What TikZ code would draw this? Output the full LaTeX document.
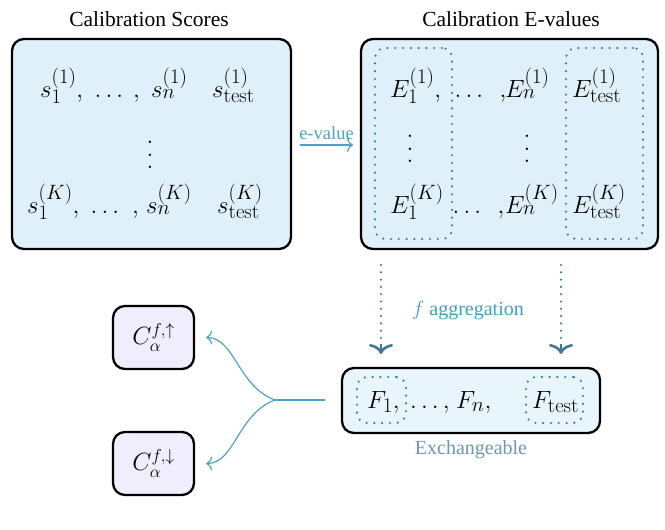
\documentclass[tikz,border=0pt]{standalone}
\usepackage[no-math]{fontspec}
\setmainfont{Liberation Serif}
\usetikzlibrary{arrows.meta}
\definecolor{boxfill}{RGB}{224,240,250}
\definecolor{ffill}{RGB}{233,245,252}
\definecolor{cfill}{RGB}{240,237,252}
\definecolor{dotblue}{RGB}{62,120,155}
\definecolor{arrowblue}{RGB}{74,163,200}
\definecolor{aggblue}{RGB}{58,160,200}
\definecolor{exgray}{RGB}{110,150,180}
\newcommand{\myvdots}{\vbox{\baselineskip=12.5pt\lineskiplimit=0pt\hbox{$.$}\hbox{$.$}\hbox{$.$}}}
\tikzset{
  bigbox/.style={draw=black, line width=2.3pt, rounded corners=12pt, fill=boxfill, inner sep=0pt},
  fbox/.style={draw=black, line width=2.3pt, rounded corners=12pt, fill=ffill, inner sep=0pt},
  cbox/.style={draw=black, line width=2.3pt, rounded corners=12pt, fill=cfill, inner sep=0pt, minimum width=81pt, minimum height=63pt, font=\fontsize{23}{26}\selectfont},
  dotbox/.style={draw=dotblue, line width=2.4pt, line cap=round, dash pattern=on 0pt off 7.8pt, rounded corners=10pt, inner sep=0pt},
  mathtxt/.style={inner sep=0pt, anchor=base west, font=\fontsize{30}{34}\selectfont},
  vdotstxt/.style={inner sep=0pt, font=\fontsize{30}{34}\selectfont},
  title/.style={inner sep=0pt, font=\fontsize{21.5}{24}\selectfont},
  dotarrow/.style={draw=dotblue, line width=2.4pt, line cap=round, dash pattern=on 0pt off 7.3pt},
  chevron/.style={draw=dotblue, line width=2.6pt, -{Computer Modern Rightarrow[length=10pt,width=24pt,line width=2.6pt]}},
  bluearrow/.style={draw=arrowblue, line width=1.2pt, -{Computer Modern Rightarrow[length=6pt,width=14pt]}},
}
\begin{document}
\begin{tikzpicture}[x=1pt,y=-1pt]
\useasboundingbox (0,0) rectangle (665,530);
% titles
\node[title] (t1) at (149,19) {Calibration Scores};
\node[title] (t2) at (511,19) {Calibration E-values};
% left box
\node[bigbox, minimum width=279pt, minimum height=210pt] (sbox) at (151.5,144) {};
\node[mathtxt] (s11) at (40,97) {$s_1^{(1)},$};
\node[mathtxt] (sd1) at (94.5,97) {$\ldots$};
\node[mathtxt] (sc1) at (133,97) {$,$};
\node[mathtxt] (sn1) at (151,97) {$s_n^{(1)}$};
\node[mathtxt] (st1) at (212,97) {$s_{\mathrm{test}}^{(1)}$};
\node[vdotstxt] (sv) at (150,155) {\myvdots};
\node[mathtxt] (s1K) at (27,213) {$s_1^{(K)},$};
\node[mathtxt] (sdK) at (90.5,213) {$\ldots$};
\node[mathtxt] (scK) at (132,213) {$,$};
\node[mathtxt] (snK) at (146,213) {$s_n^{(K)}$};
\node[mathtxt] (stK) at (217,213) {$s_{\mathrm{test}}^{(K)}$};
% right box
\node[bigbox, minimum width=297pt, minimum height=210pt] (ebox) at (509.5,144) {};
\node[dotbox, minimum width=77pt, minimum height=191pt] (dl) at (413.5,143.5) {};
\node[dotbox, minimum width=77pt, minimum height=191pt] (dr) at (604.5,143.5) {};
\node[mathtxt] (e11) at (390,97) {$E_1^{(1)},$};
\node[mathtxt] (ed1) at (454.5,97) {$\ldots$};
\node[mathtxt] (ec1) at (499.5,97) {$,$};
\node[mathtxt] (en1) at (505,97) {$E_n^{(1)}$};
\node[mathtxt] (et1) at (572,97) {$E_{\mathrm{test}}^{(1)}$};
\node[vdotstxt] (ev1) at (410,149) {\myvdots};
\node[vdotstxt] (ev2) at (527,149) {\myvdots};
\node[mathtxt] (e1K) at (390,213) {$E_1^{(K)}$};
\node[mathtxt] (edK) at (452.5,213) {$\ldots$};
\node[mathtxt] (ecK) at (497.5,213) {$,$};
\node[mathtxt] (enK) at (505,213) {$E_n^{(K)}$};
\node[mathtxt] (etK) at (572,213) {$E_{\mathrm{test}}^{(K)}$};
% e-value arrow
\coordinate (ea) at (300,145);
\coordinate (eb) at (353,145);
\draw[bluearrow] (ea) -- node[above=5pt, inner sep=0pt, text=arrowblue, font=\fontsize{18.5}{21}\selectfont] (evl) {e-value} (eb);
% F box
\node[fbox, minimum width=258pt, minimum height=65pt] (fb) at (471,400.5) {};
\node[dotbox, minimum width=49pt, minimum height=46pt] (df1) at (381.5,400) {};
\node[dotbox, minimum width=57pt, minimum height=46pt] (dft) at (554.5,400) {};
\node[mathtxt] (f1) at (367,408) {$F_1,$};
\node[mathtxt] (fd) at (410,408) {$\ldots,$};
\node[mathtxt] (fn) at (456,408) {$F_n,$};
\node[mathtxt] (ft) at (532,408) {$F_{\mathrm{test}}$};
\node[inner sep=0pt, text=exgray, font=\fontsize{20}{23}\selectfont] (exl) at (471,450) {Exchangeable};
% dotted arrows
\coordinate (da1) at (381,265);
\coordinate (db1) at (381,344);
\coordinate (dc1) at (381,354);
\coordinate (da2) at (561,265);
\coordinate (db2) at (561,344);
\coordinate (dc2) at (561,354);
\draw[dotarrow] (da1) -- (db1);
\draw[dotarrow] (da2) -- (db2);
\draw[chevron] (db1) -- (dc1);
\draw[chevron] (db2) -- (dc2);
\node[inner sep=0pt, text=aggblue, font=\fontsize{20}{23}\selectfont] (agg) at (468,310) {$f$ aggregation};
% C boxes
\node[cbox] (cu) at (153.5,337.5) {$C_\alpha^{f,\uparrow}$};
\node[cbox] (cd) at (153.5,463.5) {$C_\alpha^{f,\downarrow}$};
% fork
\coordinate (fork) at (275,400);
\coordinate (fstart) at (325,400);
\draw[draw=arrowblue, line width=1.2pt] (fstart) -- (fork);
\draw[bluearrow, shorten >=11pt] (fork) to[out=160, in=0] (cu.east);
\draw[bluearrow, shorten >=11pt] (fork) to[out=200, in=0] (cd.east);
\end{tikzpicture}
\end{document}
